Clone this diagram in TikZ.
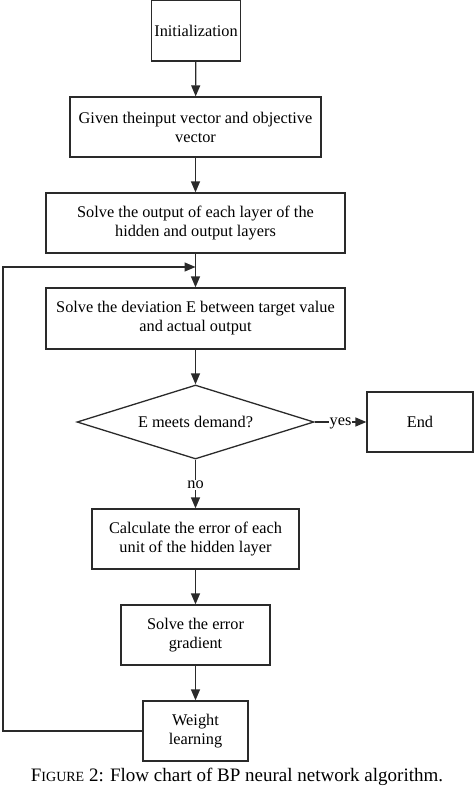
\documentclass[tikz,border=0pt]{standalone}
\usepackage{fontspec}
\setmainfont{Liberation Serif}
\usetikzlibrary{arrows.meta,shapes.geometric}
\definecolor{ln}{HTML}{2A2A2A}
\tikzset{
  box/.style={draw=ln,line width=1.3pt,rectangle,align=center,inner sep=2pt,font=\fontsize{16.3}{19}\selectfont},
  dia/.style={draw=ln,line width=1.3pt,diamond,aspect=3.2,inner sep=0pt,minimum width=237pt,minimum height=74pt,font=\fontsize{16.3}{19}\selectfont},
  arr/.style={draw=ln,line width=1.3pt,-{Triangle[length=11pt,width=9pt]}},
  lbl/.style={fill=white,inner sep=1pt,font=\fontsize{16.3}{19}\selectfont}
}
\begin{document}
\begin{tikzpicture}[x=1pt,y=-1pt]
\useasboundingbox (0,0) rectangle (474,795);
\node[box,minimum width=89pt,minimum height=61pt] (init) at (196,30.5) {Initialization};
\node[box,minimum width=251pt,minimum height=60pt] (given) at (195.5,127) {Given theinput vector and objective\\vector};
\node[box,minimum width=299pt,minimum height=60pt] (solve) at (195.5,223) {Solve the output of each layer of the\\hidden and output layers};
\node[box,minimum width=299pt,minimum height=61pt] (dev) at (195.5,318.5) {Solve the deviation E between target value\\and actual output};
\node[dia] (dem) at (195.5,422) {E meets demand?};
\node[box,minimum width=106pt,minimum height=60pt] (end) at (420,422) {End};
\node[box,minimum width=207pt,minimum height=60pt] (calc) at (195.5,539) {Calculate the error of each\\unit of the hidden layer};
\node[box,minimum width=149pt,minimum height=60pt] (grad) at (195.5,635) {Solve the error\\gradient};
\node[box,minimum width=105pt,minimum height=60pt] (wl) at (195.5,731) {Weight\\learning};
\coordinate (join) at (195.5,267);
\coordinate (corner) at (3,731);
\draw[arr] (init) -- (given);
\draw[arr] (given) -- (solve);
\draw[arr] (solve) -- (dev);
\draw[arr] (dev) -- (dem);
\draw[arr] (dem.east) -- node[lbl,anchor=base,yshift=-3.6pt] {yes} (end.west);
\draw[arr] (dem.south) -- node[lbl,pos=0.5,yshift=-1pt] {no} (calc.north);
\draw[arr] (calc) -- (grad);
\draw[arr] (grad) -- (wl);
\draw[arr] (wl.west) -- (corner) |- (join);
\node[font=\fontsize{19}{22}\selectfont] (cap) at (237,777) {F{\fontsize{14}{16}\selectfont IGURE} 2: Flow chart of BP neural network algorithm.};
\end{tikzpicture}
\end{document}
